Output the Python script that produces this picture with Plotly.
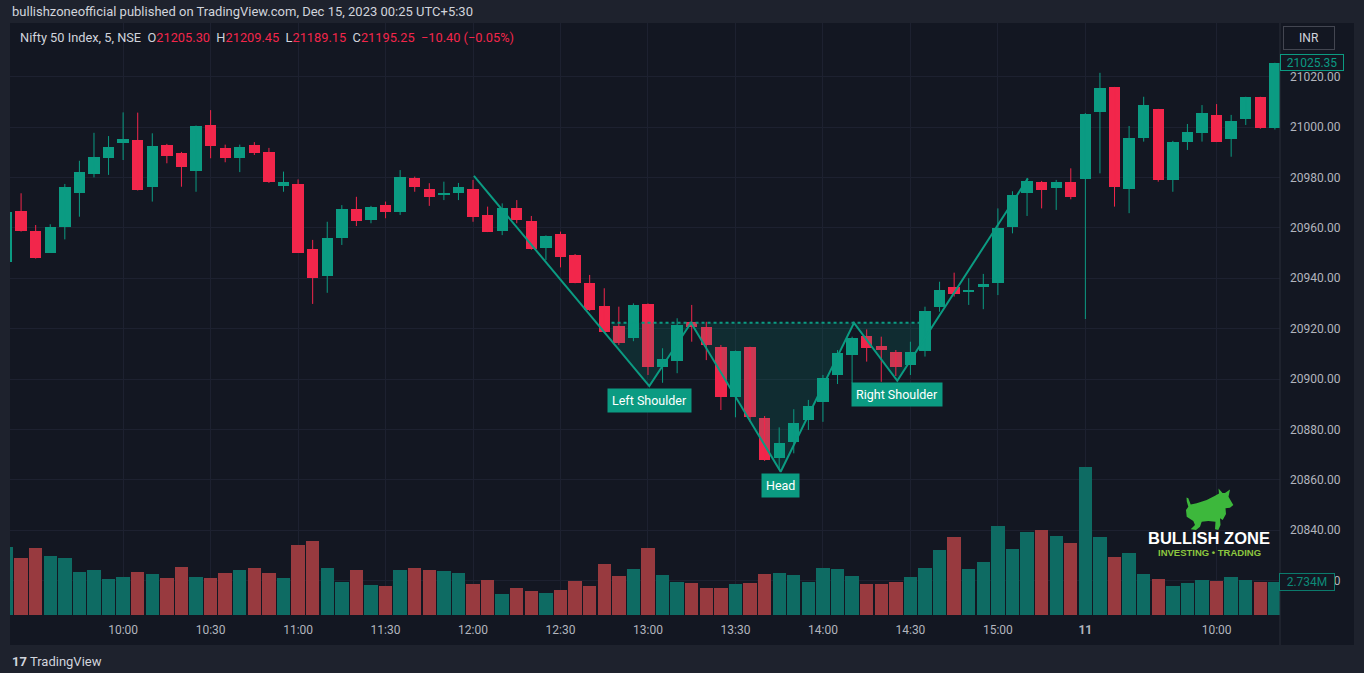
import plotly.graph_objects as go

W, H = 1364, 673
PL, PR, PT, PB = 10, 1280, 23, 615

# ---------------- data ----------------
time_ticks = [8, 14, 20, 26, 32, 38, 44, 50, 56, 62, 68, 74, 83]
time_labels = ["10:00", "10:30", "11:00", "11:30", "12:00", "12:30", "13:00",
               "13:30", "14:00", "14:30", "15:00", "<b>11</b>", "10:00"]

opens = [20946.4, 20966.8, 20958.9, 20950.1, 20960.4, 20973.7, 20981.3, 20987.6, 20993.5, 20994.8,
         20976.3, 20992.9, 20989.8, 20982.5, 21000.8, 20991.5, 20987.7, 20992.9, 20990.2, 20976.7,
         20977.4, 20951.5, 20940.9, 20955.8, 20967.3, 20963.1, 20969.0, 20966.4, 20979.9, 20975.4,
         20972.9, 20973.8, 20975.3, 20965.1, 20958.9, 20967.7, 20962.8, 20951.9, 20957.5, 20949.2,
         20938.2, 20929.0, 20921.1, 20916.1, 20929.8, 20904.9, 20907.3, 20922.7, 20920.8, 20912.8,
         20893.0, 20912.6, 20884.4, 20868.5, 20875.1, 20883.7, 20891.0, 20901.6, 20909.5, 20917.1,
         20913.1, 20910.8, 20905.6, 20911.2, 20928.7, 20936.6, 20934.9, 20936.9, 20938.0, 20960.4,
         20973.7, 20978.3, 20975.7, 20978.3, 20979.2, 21005.8, 21015.8, 20975.3, 20995.5, 21007.0,
         20979.0, 20994.2, 20997.5, 21004.8, 20995.1, 21003.1, 21011.8, 20999.5]
highs = [20966.5, 20973.7, 20961.1, 20961.4, 20977.4, 20986.6, 20997.7, 20996.4, 21005.8, 21005.7,
         20997.5, 20993.3, 20990.1, 21000.6, 21006.7, 20993.0, 20993.0, 20994.0, 20991.7, 20982.3,
         20979.2, 20955.2, 20962.4, 20969.0, 20972.3, 20968.7, 20970.4, 20982.9, 20980.3, 20977.7,
         20978.3, 20977.8, 20979.0, 20968.4, 20969.7, 20971.0, 20964.7, 20957.0, 20958.5, 20949.6,
         20941.3, 20936.0, 20928.7, 20930.0, 20930.0, 20912.2, 20924.1, 20929.4, 20922.7, 20913.5,
         20911.3, 20912.8, 20885.3, 20880.8, 20888.0, 20891.7, 20901.6, 20911.5, 20916.8, 20919.7,
         20916.8, 20911.5, 20914.8, 20928.7, 20938.6, 20942.2, 20940.0, 20941.7, 20967.7, 20974.5,
         20979.6, 20978.6, 20979.0, 20983.6, 21005.5, 21021.5, 21015.9, 21000.4, 21012.0, 21007.2,
         20994.5, 21001.2, 21008.7, 21009.1, 21004.8, 21012.0, 21012.0, 21025.5]
lows = [20946.2, 20958.5, 20947.8, 20950.0, 20955.4, 20964.4, 20980.0, 20981.0, 20986.9, 20974.8,
        20970.4, 20985.6, 20976.3, 20974.3, 20987.6, 20986.0, 20982.1, 20988.9, 20977.8, 20974.3,
        20950.0, 20929.8, 20934.2, 20953.2, 20960.7, 20961.8, 20963.8, 20965.1, 20974.3, 20968.7,
        20971.0, 20971.0, 20962.4, 20958.3, 20957.1, 20961.8, 20951.3, 20947.2, 20944.3, 20938.0,
        20927.0, 20918.5, 20913.5, 20915.0, 20901.6, 20898.5, 20902.3, 20914.8, 20907.5, 20887.7,
        20884.8, 20883.0, 20867.5, 20864.0, 20870.5, 20879.8, 20883.0, 20898.0, 20898.3, 20906.9,
        20898.9, 20901.2, 20901.6, 20908.9, 20926.7, 20932.7, 20929.4, 20927.7, 20933.3, 20957.8,
        20964.7, 20967.7, 20967.1, 20971.3, 20923.8, 20981.6, 20968.4, 20965.8, 20994.2, 20978.3,
        20974.3, 20990.9, 20994.2, 20994.0, 20988.2, 21000.8, 20999.3, 20999.0]
closes = [20966.3, 20958.9, 20948.1, 20960.4, 20976.3, 20982.3, 20988.2, 20992.2, 20995.1, 20975.0,
          20992.5, 20988.6, 20984.2, 21000.4, 20992.5, 20987.6, 20992.1, 20989.7, 20978.1, 20978.1,
          20950.1, 20940.0, 20956.1, 20967.3, 20962.8, 20968.4, 20966.4, 20980.3, 20976.1, 20972.3,
          20973.7, 20976.2, 20964.4, 20958.5, 20967.7, 20963.1, 20951.5, 20956.7, 20948.5, 20938.2,
          20927.4, 20918.8, 20914.4, 20929.4, 20904.9, 20907.8, 20921.4, 20920.8, 20913.5, 20892.7,
          20911.2, 20885.0, 20867.9, 20874.7, 20882.7, 20889.3, 20900.3, 20910.2, 20916.1, 20912.2,
          20911.5, 20904.9, 20910.8, 20927.1, 20935.3, 20933.7, 20935.2, 20937.6, 20959.8, 20973.0,
          20978.7, 20975.0, 20978.3, 20972.1, 21005.2, 21015.4, 20976.3, 20995.5, 21008.7, 20979.0,
          20994.2, 20998.1, 21005.7, 20994.2, 21002.5, 21011.8, 20999.5, 21025.35]
volumes_m = [5.66, 4.79, 5.63, 4.93, 4.79, 3.62, 3.76, 3.03, 3.18, 3.62,
             3.45, 3.12, 4.04, 3.18, 3.07, 3.49, 3.76, 3.95, 3.54, 3.07,
             5.83, 6.21, 3.95, 2.73, 3.74, 2.53, 2.45, 3.76, 3.95, 3.76,
             3.70, 3.49, 2.62, 2.93, 1.78, 2.23, 1.98, 1.86, 2.09, 2.84,
             2.45, 4.29, 3.29, 3.85, 5.63, 3.34, 2.73, 2.65, 2.28, 2.28,
             2.57, 2.70, 3.40, 3.54, 3.32, 2.73, 3.95, 3.82, 3.26, 2.59,
             2.62, 2.76, 3.20, 3.95, 5.43, 6.50, 3.87, 4.41, 7.47, 5.49,
             6.96, 7.11, 6.63, 6.02, 12.40, 6.50, 4.87, 5.16, 3.40, 3.01,
             2.45, 2.70, 2.95, 2.82, 3.20, 2.90, 2.78, 2.734]

price_ticks = [20820, 20840, 20860, 20880, 20900, 20920, 20940, 20960, 20980, 21000, 21020]

# head & shoulders drawing: start, left shoulder, neck1, head, neck2, right shoulder, end
pattern_x = [32.06, 44.09, 46.95, 53.1, 58.13, 61.1, 70.06]
pattern_y = [20980.6, 20897.2, 20922.3, 20863.2, 20922.3, 20899.3, 20979.6]
neck_price = 20922.3
neck_x = [41.5, 62.6]
pattern_labels = ["Left Shoulder", "Head", "Right Shoulder"]

# ---------------- styling ----------------
BG = "#131722"
OUTER = "#1e222d"
UP = "#0b9b82"
DN = "#f2264b"
VUP = "#0e6b63"
VDN = "#983a3f"
GRID = "#1d2130"
TXT = "#b2b5be"
FONT = "Roboto"

def px_x(x):
    return (x - PL) / (PR - PL)

def px_y(y):
    return (PB - y) / (PB - PT)

n = len(opens)
idx = list(range(n))
up = [c >= o for o, c in zip(opens, closes)]

fig = go.Figure()

# volume
fig.add_trace(go.Bar(x=idx, y=volumes_m, yaxis="y2", width=0.92,
                     marker=dict(color=[VUP if u else VDN for u in up], line=dict(width=0)),
                     hoverinfo="skip", showlegend=False))

# pattern fill
def interp(xs, ys, x):
    for k in range(len(xs) - 1):
        if xs[k] <= x <= xs[k + 1]:
            t = (x - xs[k]) / (xs[k + 1] - xs[k])
            return ys[k] + t * (ys[k + 1] - ys[k])
    return ys[-1]

poly_x = [neck_x[0], neck_x[0]] + pattern_x[1:6] + [neck_x[1], neck_x[1], neck_x[0]]
poly_y = [neck_price, interp(pattern_x, pattern_y, neck_x[0])] + pattern_y[1:6] + \
         [interp(pattern_x, pattern_y, neck_x[1]), neck_price, neck_price]
fig.add_trace(go.Scatter(x=poly_x, y=poly_y, fill="toself", mode="lines",
                         line=dict(width=0), fillcolor="rgba(8,153,129,0.16)",
                         hoverinfo="skip", showlegend=False))

# wicks
for is_up, col in [(True, UP), (False, DN)]:
    wx, wy = [], []
    for i in idx:
        if up[i] == is_up:
            wx += [i, i, None]
            wy += [lows[i], highs[i], None]
    fig.add_trace(go.Scatter(x=wx, y=wy, mode="lines", line=dict(color=col, width=1),
                             hoverinfo="skip", showlegend=False))

# bodies
for is_up, col in [(True, UP), (False, DN)]:
    bx = [i for i in idx if up[i] == is_up]
    base = [min(opens[i], closes[i]) for i in bx]
    hgt = [max(abs(closes[i] - opens[i]), 0.5) for i in bx]
    fig.add_trace(go.Bar(x=bx, y=hgt, base=base, width=0.78,
                         marker=dict(color=col, line=dict(width=0)),
                         hoverinfo="skip", showlegend=False))

# pattern lines
fig.add_trace(go.Scatter(x=pattern_x, y=pattern_y, mode="lines",
                         line=dict(color=UP, width=2), hoverinfo="skip", showlegend=False))
fig.add_trace(go.Scatter(x=neck_x, y=[neck_price, neck_price], mode="lines",
                         line=dict(color=UP, width=2, dash="dot"), hoverinfo="skip", showlegend=False))

annotations = []
for k, lab in zip([1, 3, 5], pattern_labels):
    annotations.append(dict(x=pattern_x[k], y=pattern_y[k], xref="x", yref="y", text=lab,
                            showarrow=False, yshift=-14, bgcolor=UP, borderpad=4,
                            xanchor="center", yanchor="middle",
                            font=dict(family=FONT, size=12.5, color="#ffffff")))

def pann(x, y, text, **kw):
    d = dict(x=px_x(x), y=px_y(y), xref="paper", yref="paper", showarrow=False, text=text,
             xanchor="center", yanchor="middle")
    d.update(kw)
    annotations.append(d)

# header texts
pann(10, 11, "bullishzoneofficial published on TradingView.com, Dec 15, 2023 00:25 UTC+5:30",
     xanchor="left", font=dict(family=FONT, size=13, color="#d1d4dc"))
red = lambda s: "<span style='color:%s'>%s</span>" % (DN, s)
nb = "\u00a0"
legend_txt = ("Nifty 50 Index, 5, NSE" + nb * 2 + "O" + red("21205.30") + nb * 2 + "H" + red("21209.45") +
              nb * 2 + "L" + red("21189.15") + nb * 2 + "C" + red("21195.25") + nb * 2 +
              red("\u221210.40 (\u22120.05%)"))
pann(18, 37, legend_txt, xanchor="left", font=dict(family=FONT, size=12.8, color="#d1d4dc"))
pann(1309, 38, "INR", width=44, height=16, bgcolor=BG, bordercolor="#434651", borderwidth=1,
     borderpad=3, font=dict(family=FONT, size=12, color="#d1d4dc"))
pann(1312, 62, "21025.35", width=60, height=13, bgcolor=BG, bordercolor=UP, borderwidth=1,
     borderpad=1, font=dict(family=FONT, size=12, color=UP))
pann(1307, 582, "2.734M", width=52, height=14, bgcolor=BG, bordercolor="#0b7a6c", borderwidth=1,
     borderpad=1, font=dict(family=FONT, size=12, color="#0d8a78"))
pann(10, 661, "<b>17</b> TradingView", xanchor="left",
     font=dict(family=FONT, size=13, color="#d1d4dc"))
# logo text
pann(1209, 538, "<b>BULLISH ZONE</b>", font=dict(family="Liberation Sans", size=16.5, color="#ffffff"))
pann(1209, 552, "<b>INVESTING \u2022 TRADING</b>", font=dict(family="Liberation Sans", size=9.5, color="#8cc63f"))

# bull silhouette (decorative logo)
bull_pts = [(1188.3, 498.3), (1190.7, 504.5), (1196.7, 503.3), (1206.7, 500), (1215, 495.7),
            (1219, 493.5), (1218.5, 488.5), (1222.5, 493), (1225, 493), (1230, 489.5),
            (1228.5, 496.7), (1233.3, 505), (1230, 507.7), (1225.5, 508.3), (1226, 514),
            (1222.7, 520), (1220, 518.3), (1220.5, 525), (1218.3, 530), (1215, 529.3),
            (1215.5, 521.7), (1208.3, 521), (1201.7, 521.7), (1200, 526.7), (1196, 530),
            (1190.7, 529.3), (1195, 525), (1193.3, 521), (1186.7, 516.7), (1186, 510),
            (1188.3, 506.7), (1186.8, 501.5), (1186.5, 497.5)]
bull_path = "M " + " L ".join("%.5f,%.5f" % (px_x(x), px_y(y)) for x, y in bull_pts) + " Z"

shapes = [
    dict(type="rect", xref="paper", yref="paper", x0=px_x(10), x1=px_x(1354), y0=px_y(645), y1=px_y(23),
         fillcolor=BG, line=dict(width=0), layer="below"),
    dict(type="line", xref="paper", yref="paper", x0=1, x1=1, y0=px_y(645), y1=px_y(23),
         line=dict(color="#2a2e39", width=1)),
    dict(type="path", xref="paper", yref="paper", path=bull_path, fillcolor="#3db83c",
         line=dict(width=0)),
]

fig.update_layout(
    width=W, height=H,
    margin=dict(l=PL, r=W - PR, t=PT, b=H - PB),
    paper_bgcolor=OUTER, plot_bgcolor=BG,
    barmode="overlay", bargap=0, showlegend=False,
    font=dict(family=FONT, color=TXT, size=12),
    xaxis=dict(range=[0.24, 87.35], tickmode="array", tickvals=time_ticks, ticktext=time_labels,
               showgrid=True, gridcolor=GRID, gridwidth=1, zeroline=False, ticks="",
               tickfont=dict(size=12, color=TXT), ticklabelstandoff=6, fixedrange=True,
               showline=False),
    yaxis=dict(range=[20806.35, 21041.27], side="right", tickmode="array", tickvals=price_ticks,
               tickformat=".2f", showgrid=True, gridcolor=GRID, gridwidth=1, zeroline=False,
               ticks="", tickfont=dict(size=12, color=TXT), ticklabelstandoff=9, showline=False),
    yaxis2=dict(range=[0, (PB - PT) / 11.96], overlaying="y", visible=False, showgrid=False),
    annotations=annotations,
    shapes=shapes,
)

fig.write_html("out.html")
